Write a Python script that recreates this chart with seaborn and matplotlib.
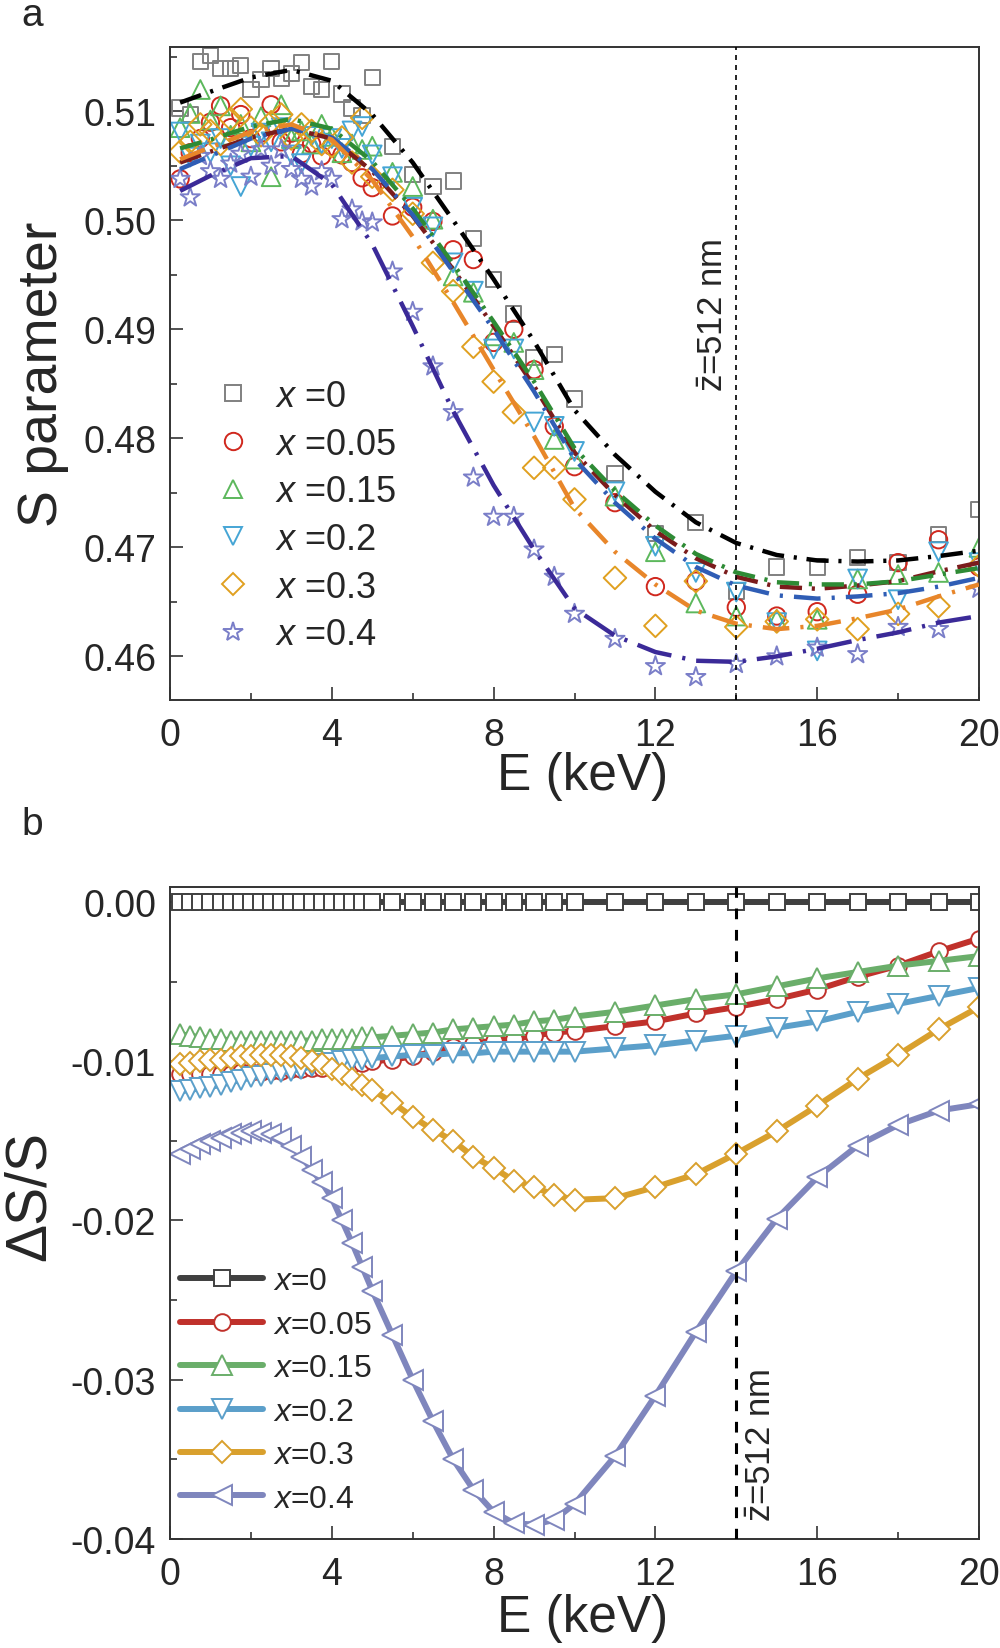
import matplotlib
matplotlib.use("Agg")
import matplotlib.pyplot as plt
from matplotlib.lines import Line2D
from matplotlib.ticker import MultipleLocator, FuncFormatter
import seaborn as sns

# positron energies (keV)
E = [0.25, 0.5, 0.75, 1.0, 1.25, 1.5, 1.75, 2.0, 2.25, 2.5,
     2.75, 3.0, 3.25, 3.5, 3.75, 4.0, 4.25, 4.5, 4.75, 5.0,
     5.5, 6.0, 6.5, 7.0, 7.5, 8.0, 8.5, 9.0, 9.5, 10.0,
     11, 12, 13, 14, 15, 16, 17, 18, 19, 20]
E_fit = [0.25, 1, 2, 3, 4, 5, 6, 7, 8, 9, 10, 11, 12, 13, 14, 15, 16, 17, 18, 19, 20]

labels_a = [r"$x$ =0", r"$x$ =0.05", r"$x$ =0.15", r"$x$ =0.2", r"$x$ =0.3", r"$x$ =0.4"]
labels_b = [r"$x$=0", r"$x$=0.05", r"$x$=0.15", r"$x$=0.2", r"$x$=0.3", r"$x$=0.4"]

# panel a: measured S parameter
S_x0 = [0.5103, 0.5097, 0.5146, 0.5151, 0.5139, 0.5139, 0.5142, 0.5120, 0.5129, 0.5139,
        0.5130, 0.5135, 0.5145, 0.5123, 0.5120, 0.5146, 0.5116, 0.5103, 0.5096, 0.5131,
        0.5068, 0.5042, 0.5031, 0.5036, 0.4983, 0.4946, 0.4914, 0.4874, 0.4877, 0.4836,
        0.4768, 0.4713, 0.4723, 0.4660, 0.4682, 0.4682, 0.4691, 0.4686, 0.4712, 0.4735]
S_x005 = [0.5038, 0.5062, 0.5075, 0.5090, 0.5105, 0.5085, 0.5097, 0.5075, 0.5080, 0.5106,
          0.5072, 0.5080, 0.5061, 0.5070, 0.5059, 0.5068, 0.5060, 0.5053, 0.5039, 0.5030,
          0.5004, 0.5012, 0.4999, 0.4973, 0.4964, 0.4888, 0.4900, 0.4863, 0.4811, 0.4774,
          0.4741, 0.4664, 0.4669, 0.4645, 0.4637, 0.4641, 0.4657, 0.4686, 0.4707, 0.4682]
S_x015 = [0.5085, 0.5098, 0.5120, 0.5092, 0.5105, 0.5078, 0.5088, 0.5072, 0.5095, 0.5040,
          0.5106, 0.5075, 0.5082, 0.5070, 0.5088, 0.5077, 0.5062, 0.5070, 0.5065, 0.5068,
          0.5044, 0.5031, 0.5001, 0.4949, 0.4934, 0.4894, 0.4888, 0.4863, 0.4799, 0.4781,
          0.4747, 0.4696, 0.4649, 0.4637, 0.4634, 0.4634, 0.4671, 0.4675, 0.4677, 0.4700]
S_x02 = [0.5081, 0.5058, 0.5070, 0.5062, 0.5075, 0.5050, 0.5031, 0.5068, 0.5080, 0.5072,
         0.5085, 0.5060, 0.5052, 0.5077, 0.5070, 0.5075, 0.5066, 0.5082, 0.5086, 0.5060,
         0.5040, 0.5012, 0.4994, 0.4961, 0.4935, 0.4882, 0.4882, 0.4815, 0.4811, 0.4788,
         0.4751, 0.4701, 0.4677, 0.4659, 0.4631, 0.4605, 0.4671, 0.4652, 0.4696, 0.4686]
S_x03 = [0.5063, 0.5072, 0.5088, 0.5082, 0.5070, 0.5093, 0.5102, 0.5085, 0.5078, 0.5090,
         0.5097, 0.5075, 0.5088, 0.5082, 0.5070, 0.5068, 0.5076, 0.5053, 0.5094, 0.5040,
         0.5028, 0.5006, 0.4961, 0.4935, 0.4884, 0.4852, 0.4824, 0.4773, 0.4773, 0.4744,
         0.4672, 0.4628, 0.4669, 0.4627, 0.4632, 0.4634, 0.4625, 0.4639, 0.4646, 0.4683]
S_x04 = [0.5038, 0.5021, 0.5059, 0.5045, 0.5038, 0.5052, 0.5061, 0.5040, 0.5065, 0.5050,
         0.5065, 0.5047, 0.5038, 0.5031, 0.5045, 0.5038, 0.5001, 0.5010, 0.4999, 0.4998,
         0.4953, 0.4916, 0.4866, 0.4824, 0.4764, 0.4728, 0.4728, 0.4698, 0.4673, 0.4639,
         0.4616, 0.4591, 0.4581, 0.4593, 0.4600, 0.4608, 0.4602, 0.4627, 0.4625, 0.4662]

# panel a: fitted curves
fit_x0 = [0.5108, 0.5118, 0.5131, 0.5138, 0.5128, 0.5097, 0.5053, 0.5000, 0.4946, 0.4889, 0.4826,
          0.4785, 0.4751, 0.4723, 0.4704, 0.4693, 0.4688, 0.4687, 0.4688, 0.4692, 0.4697]
fit_x005 = [0.5053, 0.5063, 0.5076, 0.5084, 0.5075, 0.5045, 0.5004, 0.4955, 0.4903, 0.4848, 0.4787,
            0.4748, 0.4715, 0.4690, 0.4673, 0.4664, 0.4662, 0.4665, 0.4669, 0.4678, 0.4686]
fit_x015 = [0.5066, 0.5074, 0.5086, 0.5093, 0.5084, 0.5054, 0.5011, 0.4960, 0.4907, 0.4852, 0.4791,
            0.4752, 0.4720, 0.4694, 0.4677, 0.4668, 0.4666, 0.4666, 0.4669, 0.4675, 0.4681]
fit_x02 = [0.5047, 0.5059, 0.5075, 0.5084, 0.5076, 0.5047, 0.5005, 0.4953, 0.4900, 0.4843, 0.4781,
           0.4741, 0.4708, 0.4682, 0.4665, 0.4656, 0.4653, 0.4655, 0.4658, 0.4664, 0.4672]
fit_x03 = [0.5056, 0.5067, 0.5081, 0.5088, 0.5074, 0.5037, 0.4985, 0.4925, 0.4863, 0.4802, 0.4736,
           0.4696, 0.4666, 0.4642, 0.4630, 0.4625, 0.4628, 0.4635, 0.4643, 0.4655, 0.4666]
fit_x04 = [0.5027, 0.5041, 0.5057, 0.5059, 0.5033, 0.4978, 0.4903, 0.4825, 0.4757, 0.4698, 0.4644,
           0.4619, 0.4604, 0.4596, 0.4595, 0.4600, 0.4607, 0.4615, 0.4622, 0.4631, 0.4637]

# panel b: relative change dS/S
dS_x0 = [0.0, 0.0, 0.0, 0.0, 0.0, 0.0, 0.0, 0.0, 0.0, 0.0,
         0.0, 0.0, 0.0, 0.0, 0.0, 0.0, 0.0, 0.0, 0.0, 0.0,
         0.0, 0.0, 0.0, 0.0, 0.0, 0.0, 0.0, 0.0, 0.0, 0.0,
         0.0, 0.0, 0.0, 0.0, 0.0, 0.0, 0.0, 0.0, 0.0, 0.0]
dS_x005 = [-0.0108, -0.0108, -0.0108, -0.0108, -0.0108, -0.0108, -0.0107, -0.0107, -0.0107, -0.0106,
           -0.0106, -0.0105, -0.0105, -0.0104, -0.0104, -0.0103, -0.0102, -0.0102, -0.0101, -0.0100,
           -0.0099, -0.0097, -0.0094, -0.0091, -0.0089, -0.0087, -0.0086, -0.0084, -0.0082, -0.0081,
           -0.0078, -0.0075, -0.0070, -0.0066, -0.0061, -0.0055, -0.0047, -0.0040, -0.0031, -0.0023]
dS_x015 = [-0.0083, -0.0084, -0.0085, -0.0086, -0.0086, -0.0087, -0.0087, -0.0087, -0.0087, -0.0087,
           -0.0087, -0.0087, -0.0087, -0.0087, -0.0086, -0.0086, -0.0086, -0.0086, -0.0085, -0.0085,
           -0.0084, -0.0083, -0.0082, -0.0080, -0.0079, -0.0078, -0.0077, -0.0075, -0.0074, -0.0072,
           -0.0069, -0.0065, -0.0061, -0.0058, -0.0053, -0.0048, -0.0044, -0.0040, -0.0037, -0.0034]
dS_x02 = [-0.0119, -0.0118, -0.0117, -0.0116, -0.0115, -0.0113, -0.0112, -0.0110, -0.0109, -0.0108,
          -0.0107, -0.0106, -0.0105, -0.0103, -0.0102, -0.0101, -0.0100, -0.0099, -0.0099, -0.0098,
          -0.0097, -0.0096, -0.0096, -0.0095, -0.0095, -0.0094, -0.0094, -0.0094, -0.0094, -0.0094,
          -0.0092, -0.0090, -0.0087, -0.0084, -0.0079, -0.0075, -0.0069, -0.0064, -0.0059, -0.0054]
dS_x03 = [-0.0102, -0.0101, -0.0100, -0.0099, -0.0099, -0.0098, -0.0097, -0.0097, -0.0096, -0.0096,
          -0.0096, -0.0097, -0.0098, -0.0100, -0.0102, -0.0105, -0.0108, -0.0111, -0.0115, -0.0118,
          -0.0126, -0.0135, -0.0143, -0.0150, -0.0160, -0.0167, -0.0175, -0.0179, -0.0184, -0.0187,
          -0.0186, -0.0179, -0.0171, -0.0158, -0.0144, -0.0128, -0.0111, -0.0096, -0.0080, -0.0066]
dS_x04 = [-0.0158, -0.0155, -0.0152, -0.0150, -0.0148, -0.0146, -0.0145, -0.0144, -0.0145, -0.0146,
          -0.0148, -0.0153, -0.0160, -0.0168, -0.0176, -0.0186, -0.0200, -0.0214, -0.0229, -0.0244,
          -0.0272, -0.0300, -0.0326, -0.0350, -0.0369, -0.0383, -0.0390, -0.0391, -0.0388, -0.0378,
          -0.0348, -0.0310, -0.0270, -0.0232, -0.0199, -0.0173, -0.0153, -0.0140, -0.0131, -0.0127]

S_all = [S_x0, S_x005, S_x015, S_x02, S_x03, S_x04]
fit_all = [fit_x0, fit_x005, fit_x015, fit_x02, fit_x03, fit_x04]
dS_all = [dS_x0, dS_x005, dS_x015, dS_x02, dS_x03, dS_x04]

# styles
markers_a = ["s", "o", "^", "v", "D", "*"]
msize_a = [11, 12.5, 13.5, 13.5, 11.5, 14.5]
mcol_a = ["#808080", "#d0281e", "#5cb85c", "#45a5d5", "#e0a020", "#7a7ec8"]
fitcol = ["#000000", "#7b1c1c", "#2e8b35", "#2f5db5", "#e8862a", "#3b2a98"]
fitdash = [(5, 2.2, 0.7, 2.2), (5, 2.2, 0.7, 2.2), (5, 2.2, 0.7, 2.2),
           (6, 2.5, 0.7, 2.5), (6, 2.5, 0.7, 2.5), (8, 2.5, 0.7, 2.5)]
markers_b = ["s", "o", "^", "v", "D", "<"]
msize_b = [12, 12, 14, 14, 11, 14]
bcol = ["#404040", "#c0312b", "#6aae6a", "#5b9fca", "#d9a02d", "#7f86bd"]

sns.set_style("ticks")
plt.rcParams["font.family"] = ["Liberation Sans", "DejaVu Sans"]
plt.rcParams["mathtext.fontset"] = "custom"
plt.rcParams["mathtext.rm"] = "Liberation Sans"
plt.rcParams["mathtext.it"] = "Liberation Sans:italic"

fig = plt.figure(figsize=(10, 16.49), dpi=100)
ax1 = fig.add_axes([0.170, 0.5749, 0.809, 0.396])
ax2 = fig.add_axes([0.170, 0.0661, 0.809, 0.3954])

# ---- panel a
for ys, mk, ms, c in zip(S_all, markers_a, msize_a, mcol_a):
    sns.scatterplot(x=E, y=ys, marker=mk, s=ms ** 2, color=c, facecolors="none",
                    edgecolor=c, linewidth=1.4, ax=ax1, zorder=2, legend=False)
for ys, c, d in zip(fit_all, fitcol, fitdash):
    sns.lineplot(x=E_fit, y=ys, color=c, lw=3.2, linestyle=(0, d), ax=ax1,
                 zorder=3, estimator=None)
ax1.axvline(14, color="k", lw=1.2, ls=(0, (3, 3)), zorder=4)
ax1.text(13.84, 0.4843, r"$\mathrm{\bar{z}}$=512 nm", rotation=90, ha="right",
         va="bottom", fontsize=25)

handles_a = [Line2D([], [], ls="none", marker=mk, ms=ms, mfc="none", mec=c, mew=1.4)
             for mk, ms, c in zip(markers_a, msize_a, mcol_a)]
ax1.legend(handles_a, labels_a, loc="upper left", bbox_to_anchor=(0.0556, 0.4916),
           frameon=False, fontsize=26, handlelength=1.0, handletextpad=0.67,
           labelspacing=0.35, borderpad=0, borderaxespad=0)

ax1.set_xlim(0, 20)
ax1.set_ylim(0.456, 0.5159)
ax1.yaxis.set_major_locator(MultipleLocator(0.01))
ax1.yaxis.set_minor_locator(MultipleLocator(0.005))
ax1.set_ylabel("S parameter", fontsize=40)
ax1.yaxis.set_label_coords(-0.125, 0.5)
ax1.set_xlabel("E (keV)", fontsize=37)
ax1.xaxis.set_label_coords(0.51, -0.078)

# ---- panel b
for ys, mk, ms, c in zip(dS_all, markers_b, msize_b, bcol):
    sns.lineplot(x=E, y=ys, color=c, lw=4.3, marker=mk, markersize=ms,
                 markerfacecolor="white", markeredgecolor=c, markeredgewidth=1.4,
                 ax=ax2, estimator=None)
ax2.axvline(14, color="k", lw=2.2, ls=(0, (3.5, 3.5)), zorder=5)
ax2.text(14.21, -0.0389, r"$\mathrm{\bar{z}}$=512 nm", rotation=90, ha="left",
         va="bottom", fontsize=25)

handles_b = [Line2D([], [], color=c, lw=4.3, solid_capstyle="round", marker=mk, ms=ms,
                    mfc="white", mec=c, mew=1.4)
             for mk, ms, c in zip(markers_b, msize_b, bcol)]
ax2.legend(handles_b, labels_b, loc="upper left", bbox_to_anchor=(0.0124, 0.418),
           frameon=False, fontsize=23, handlelength=2.6, handletextpad=0.3,
           labelspacing=0.42, borderpad=0, borderaxespad=0)

ax2.set_xlim(0, 20)
ax2.set_ylim(-0.04, 0.00094)
ax2.yaxis.set_major_locator(MultipleLocator(0.01))
ax2.yaxis.set_minor_locator(MultipleLocator(0.005))
ax2.set_ylabel("ΔS/S", fontsize=41)
ax2.yaxis.set_label_coords(-0.14, 0.528)
ax2.set_xlabel("E (keV)", fontsize=37)
ax2.xaxis.set_label_coords(0.51, -0.083)


def fmt(v, pos):
    if abs(v) < 1e-9:
        return "0.00"
    return "%.2f" % v


for ax in (ax1, ax2):
    ax.xaxis.set_major_locator(MultipleLocator(4))
    ax.xaxis.set_minor_locator(MultipleLocator(2))
    ax.yaxis.set_major_formatter(FuncFormatter(fmt))
    ax.tick_params(which="both", direction="in", top=False, right=False,
                   width=1.2, color="#333333", labelsize=27)
    ax.tick_params(which="major", length=9.5)
    ax.tick_params(which="minor", length=5)
    ax.tick_params(axis="x", pad=12)
    ax.tick_params(axis="y", pad=10)
    for sp in ax.spines.values():
        sp.set_linewidth(1.4)
        sp.set_color("#333333")

fig.text(0.032, 1 - 16 / 1649, "a", fontsize=28, ha="center", va="center")
fig.text(0.032, 1 - 825 / 1649, "b", fontsize=28, ha="center", va="center")

fig.savefig("out.png", dpi=100)
